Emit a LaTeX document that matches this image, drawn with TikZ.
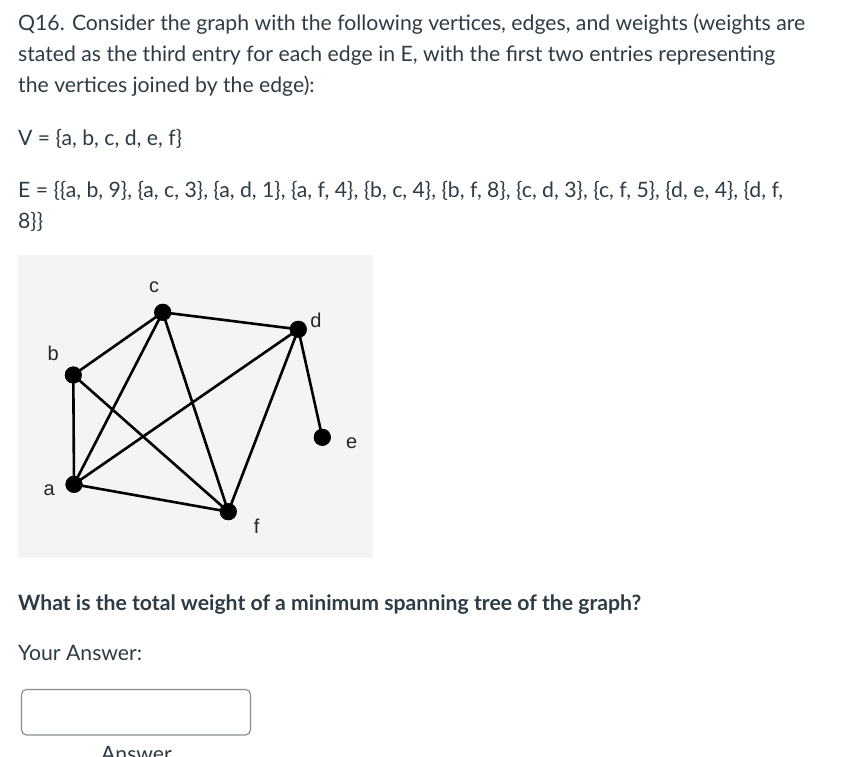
\documentclass[tikz,border=0pt]{standalone}
\usepackage{fontspec}
\setmainfont{Lato}
\newfontfamily\lab{Liberation Sans}
\definecolor{txt}{HTML}{2D3B45}
\definecolor{panel}{HTML}{F4F4F4}
\definecolor{boxc}{HTML}{8A8F94}
\begin{document}
\begin{tikzpicture}[x=1pt,y=-1pt,
  line/.style={anchor=base west,inner sep=0pt,text=txt,font=\fontsize{21.2}{25}\selectfont},
  vtx/.style={circle,fill=black,minimum size=17pt,inner sep=0pt},
  vlab/.style={inner sep=0pt,text=black!85,font=\lab\fontsize{20}{22}\selectfont},
  edge/.style={line width=2.6pt}]
\useasboundingbox (0,0) rectangle (852,756);
\fill[white] (0,0) rectangle (852,756);
% text
\node[line] (t1) at (18,30.5) {Q16. Consider the graph with the following vertices, edges, and weights (weights are};
\node[line] (t2) at (18,61.5) {stated as the third entry for each edge in E, with the first two entries representing};
\node[line] (t3) at (18,92.5) {the vertices joined by the edge):};
\node[line] (t4) at (18,145) {V = \{a, b, c, d, e, f\}};
\node[line] (t5) at (18,197) {E = \{\{a, b, 9\}, \{a, c, 3\}, \{a, d, 1\}, \{a, f, 4\}, \{b, c, 4\}, \{b, f, 8\}, \{c, d, 3\}, \{c, f, 5\}, \{d, e, 4\}, \{d, f,};
\node[line] (t6) at (18,228.5) {8\}\}};
% graph panel
\fill[panel] (18,255) rectangle (373,558);
\node[vtx] (a) at (74,484.3) {};
\node[vtx] (b) at (73.3,375) {};
\node[vtx] (c) at (162.7,312.3) {};
\node[vtx] (d) at (298.3,329.3) {};
\node[vtx] (e) at (322.3,437.3) {};
\node[vtx] (f) at (228.3,511.7) {};
\draw[edge] (a.center) -- (b.center);
\draw[edge] (a.center) -- (c.center);
\draw[edge] (a.center) -- (d.center);
\draw[edge] (a.center) -- (f.center);
\draw[edge] (b.center) -- (c.center);
\draw[edge] (b.center) -- (f.center);
\draw[edge] (c.center) -- (d.center);
\draw[edge] (c.center) -- (f.center);
\draw[edge] (d.center) -- (e.center);
\draw[edge] (d.center) -- (f.center);
\foreach \v in {a,b,c,d,e,f} \fill (\v) circle (8.5pt);
\node[vlab] (la) at (49.3,490.7) {a};
\node[vlab] (lb) at (53.3,353.5) {b};
\node[vlab] (lc) at (154,287.3) {c};
\node[vlab] (ld) at (316,320.5) {d};
\node[vlab] (le) at (351.7,443.3) {e};
\node[vlab] (lf) at (256.7,526) {f};
% question
\node[line,font=\bfseries\fontsize{21.2}{25}\selectfont] (q) at (18,610) {What is the total weight of a minimum spanning tree of the graph?};
\node[line] (ya) at (18,660.5) {Your Answer:};
\draw[boxc,line width=1.2pt,rounded corners=5pt] (21.5,689.5) rectangle (250.5,735) node[pos=0,inner sep=0pt] (box) {};
\node[anchor=base,inner sep=0pt,text=txt,font=\fontsize{21.2}{25}\selectfont] (ans) at (136.5,761.5) {Answer};
\end{tikzpicture}
\end{document}
